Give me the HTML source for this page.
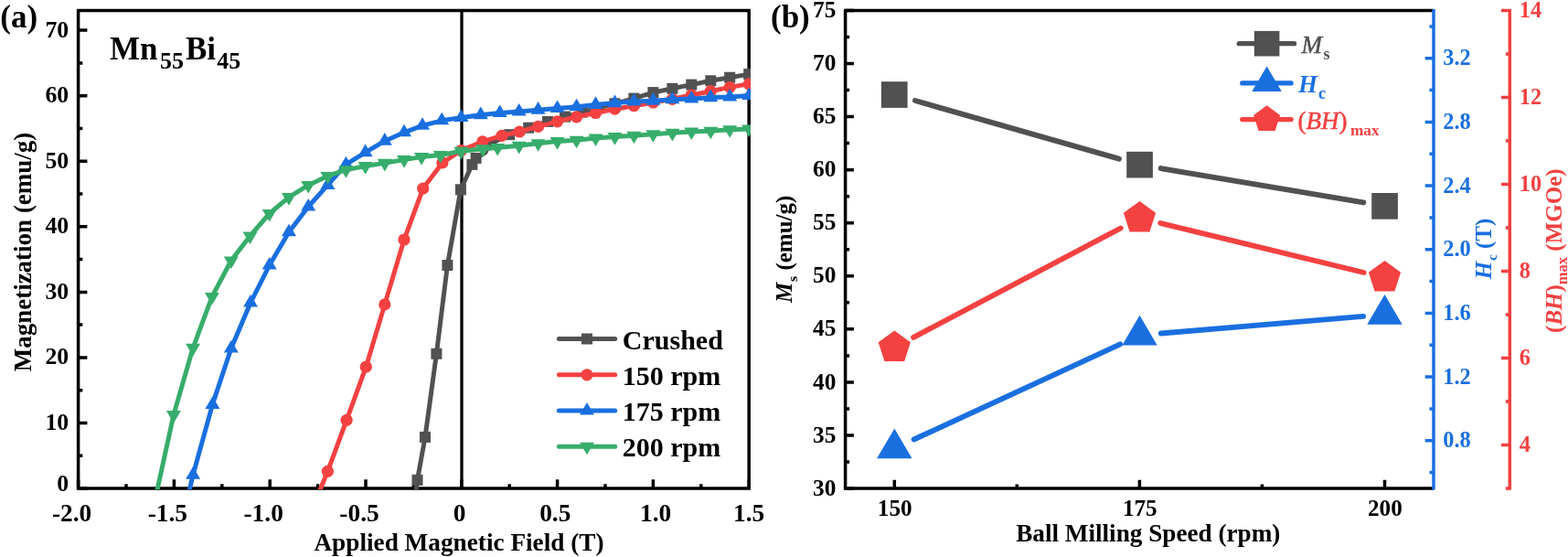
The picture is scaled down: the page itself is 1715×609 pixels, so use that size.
<!DOCTYPE html>
<html lang="en"><head><meta charset="utf-8"><title>Figure</title>
<style>html,body{margin:0;padding:0;background:#fff}svg{display:block}</style></head>
<body>
<svg width="1715" height="609" viewBox="0 0 1715 609" font-family="'Liberation Serif', 'Times New Roman', serif" font-weight="bold">
<rect width="1715" height="609" fill="#fff"/>
<defs><clipPath id="ca"><rect x="84.1" y="11.4" width="736.8" height="523.6"/></clipPath></defs>
<line x1="505" y1="11.4" x2="505" y2="534" stroke="#000" stroke-width="3.3"/>
<path d="M85.6 11.4 H819.2 V534 H85.6 Z" fill="none" stroke="#000" stroke-width="3.5"/>
<path d="M85.6 534 v-9.8 M138 534 v-4.7 M190.4 534 v-9.8 M242.8 534 v-4.7 M295.2 534 v-9.8 M347.6 534 v-4.7 M400 534 v-9.8 M452.4 534 v-4.7 M504.8 534 v-9.8 M557.2 534 v-4.7 M609.6 534 v-9.8 M662 534 v-4.7 M714.4 534 v-9.8 M766.8 534 v-4.7 M819.2 534 v-9.8 M85.6 534 h9.8 M85.6 498.2 h4.7 M85.6 462.4 h9.8 M85.6 426.7 h4.7 M85.6 390.9 h9.8 M85.6 355.1 h4.7 M85.6 319.4 h9.8 M85.6 283.6 h4.7 M85.6 247.8 h9.8 M85.6 212 h4.7 M85.6 176.2 h9.8 M85.6 140.5 h4.7 M85.6 104.7 h9.8 M85.6 68.9 h4.7 M85.6 33.1 h9.8" fill="none" stroke="#000" stroke-width="3.5"/>
<g clip-path="url(#ca)">
<polyline points="455.2,536 456.5,524.8 465,477.9 477.4,386.8 489.4,290 503.9,207.3 516.4,179.9 520.6,172.9 530.8,166.9 535.8,157.6 557.2,147.2 578.2,139.7 599.1,132.9 618,127.6 636.8,122.6 654.7,117.9 672.5,113.3 693.4,107.6 714.4,101.1 735.4,96.8 756.3,92.6 777.3,88.3 798.2,84.7 819.2,81.1" fill="none" stroke="#515151" stroke-width="5.0" stroke-linejoin="round"/><rect x="450.5" y="518.8" width="12" height="12" fill="#515151"/><rect x="459" y="471.9" width="12" height="12" fill="#515151"/><rect x="471.4" y="380.8" width="12" height="12" fill="#515151"/><rect x="483.4" y="284" width="12" height="12" fill="#515151"/><rect x="497.9" y="201.3" width="12" height="12" fill="#515151"/><rect x="510.4" y="173.9" width="12" height="12" fill="#515151"/><rect x="514.6" y="166.9" width="12" height="12" fill="#515151"/><rect x="529.8" y="151.6" width="12" height="12" fill="#515151"/><rect x="551.2" y="141.2" width="12" height="12" fill="#515151"/><rect x="572.2" y="133.7" width="12" height="12" fill="#515151"/><rect x="593.1" y="126.9" width="12" height="12" fill="#515151"/><rect x="612" y="121.6" width="12" height="12" fill="#515151"/><rect x="630.8" y="116.6" width="12" height="12" fill="#515151"/><rect x="648.7" y="111.9" width="12" height="12" fill="#515151"/><rect x="666.5" y="107.3" width="12" height="12" fill="#515151"/><rect x="687.4" y="101.6" width="12" height="12" fill="#515151"/><rect x="708.4" y="95.1" width="12" height="12" fill="#515151"/><rect x="729.4" y="90.8" width="12" height="12" fill="#515151"/><rect x="750.3" y="86.6" width="12" height="12" fill="#515151"/><rect x="771.3" y="82.3" width="12" height="12" fill="#515151"/><rect x="792.2" y="78.7" width="12" height="12" fill="#515151"/><rect x="813.2" y="75.1" width="12" height="12" fill="#515151"/>
<polyline points="349.9,536 358.4,515.3 379.1,459.4 400.3,401.2 420.8,332.9 442,262 462.7,206.1 483.9,177.9 504.4,164.5 527.8,154.8 548.9,148.3 568.2,144 588.6,138.4 609.6,132.8 630.6,127.8 651.5,123.5 672.5,119.2 693.4,115.7 714.4,112 735.4,108.3 756.3,104 777.3,99.7 798.2,95.4 819.2,91.8" fill="none" stroke="#F44141" stroke-width="5.0" stroke-linejoin="round"/><circle cx="358.4" cy="515.3" r="6.6" fill="#F44141"/><circle cx="379.1" cy="459.4" r="6.6" fill="#F44141"/><circle cx="400.3" cy="401.2" r="6.6" fill="#F44141"/><circle cx="420.8" cy="332.9" r="6.6" fill="#F44141"/><circle cx="442" cy="262" r="6.6" fill="#F44141"/><circle cx="462.7" cy="206.1" r="6.6" fill="#F44141"/><circle cx="483.9" cy="177.9" r="6.6" fill="#F44141"/><circle cx="504.4" cy="164.5" r="6.6" fill="#F44141"/><circle cx="527.8" cy="154.8" r="6.6" fill="#F44141"/><circle cx="548.9" cy="148.3" r="6.6" fill="#F44141"/><circle cx="568.2" cy="144" r="6.6" fill="#F44141"/><circle cx="588.6" cy="138.4" r="6.6" fill="#F44141"/><circle cx="609.6" cy="132.8" r="6.6" fill="#F44141"/><circle cx="630.6" cy="127.8" r="6.6" fill="#F44141"/><circle cx="651.5" cy="123.5" r="6.6" fill="#F44141"/><circle cx="672.5" cy="119.2" r="6.6" fill="#F44141"/><circle cx="693.4" cy="115.7" r="6.6" fill="#F44141"/><circle cx="714.4" cy="112" r="6.6" fill="#F44141"/><circle cx="735.4" cy="108.3" r="6.6" fill="#F44141"/><circle cx="756.3" cy="104" r="6.6" fill="#F44141"/><circle cx="777.3" cy="99.7" r="6.6" fill="#F44141"/><circle cx="798.2" cy="95.4" r="6.6" fill="#F44141"/><circle cx="819.2" cy="91.8" r="6.6" fill="#F44141"/>
<polyline points="207.2,536 211.1,519.3 232.4,442.4 252.8,381 274,331.1 294.7,290 316,253.8 337.2,226 358.4,202.4 378.4,179.8 399.6,166.7 420.8,154.2 442,144.8 462,137.3 483.2,131.8 504.4,128.6 525.8,125.7 546.7,123.6 567.7,121.9 588.6,120.2 609.6,118.5 630.6,116.8 651.5,114.4 672.5,112.6 693.4,110.9 714.4,110.2 735.4,108.8 756.3,108.1 777.3,106.6 798.2,105.9 819.2,104.5" fill="none" stroke="#1A6FDF" stroke-width="5.0" stroke-linejoin="round"/><polygon points="211.1,510.2 203.1,523.8 219.1,523.8" fill="#1A6FDF"/><polygon points="232.4,433.3 224.4,446.9 240.4,446.9" fill="#1A6FDF"/><polygon points="252.8,371.9 244.8,385.5 260.8,385.5" fill="#1A6FDF"/><polygon points="274,322 266,335.6 282,335.6" fill="#1A6FDF"/><polygon points="294.7,280.9 286.7,294.5 302.7,294.5" fill="#1A6FDF"/><polygon points="316,244.7 308,258.3 324,258.3" fill="#1A6FDF"/><polygon points="337.2,216.9 329.2,230.5 345.2,230.5" fill="#1A6FDF"/><polygon points="358.4,193.3 350.4,206.9 366.4,206.9" fill="#1A6FDF"/><polygon points="378.4,170.7 370.4,184.3 386.4,184.3" fill="#1A6FDF"/><polygon points="399.6,157.6 391.6,171.2 407.6,171.2" fill="#1A6FDF"/><polygon points="420.8,145.1 412.8,158.7 428.8,158.7" fill="#1A6FDF"/><polygon points="442,135.7 434,149.3 450,149.3" fill="#1A6FDF"/><polygon points="462,128.2 454,141.8 470,141.8" fill="#1A6FDF"/><polygon points="483.2,122.7 475.2,136.3 491.2,136.3" fill="#1A6FDF"/><polygon points="504.4,119.5 496.4,133.1 512.4,133.1" fill="#1A6FDF"/><polygon points="525.8,116.6 517.8,130.2 533.8,130.2" fill="#1A6FDF"/><polygon points="546.7,114.5 538.7,128.1 554.7,128.1" fill="#1A6FDF"/><polygon points="567.7,112.9 559.7,126.5 575.7,126.5" fill="#1A6FDF"/><polygon points="588.6,111.1 580.6,124.7 596.6,124.7" fill="#1A6FDF"/><polygon points="609.6,109.4 601.6,123 617.6,123" fill="#1A6FDF"/><polygon points="630.6,107.7 622.6,121.3 638.6,121.3" fill="#1A6FDF"/><polygon points="651.5,105.3 643.5,118.9 659.5,118.9" fill="#1A6FDF"/><polygon points="672.5,103.6 664.5,117.2 680.5,117.2" fill="#1A6FDF"/><polygon points="693.4,101.9 685.4,115.5 701.4,115.5" fill="#1A6FDF"/><polygon points="714.4,101.1 706.4,114.7 722.4,114.7" fill="#1A6FDF"/><polygon points="735.4,99.7 727.4,113.3 743.4,113.3" fill="#1A6FDF"/><polygon points="756.3,99 748.3,112.6 764.3,112.6" fill="#1A6FDF"/><polygon points="777.3,97.6 769.3,111.2 785.3,111.2" fill="#1A6FDF"/><polygon points="798.2,96.9 790.2,110.5 806.2,110.5" fill="#1A6FDF"/><polygon points="819.2,95.4 811.2,109 827.2,109" fill="#1A6FDF"/>
<polyline points="171.9,536 189.9,453.6 211.1,380.3 231.9,324.4 252.8,285 273.5,258 294.7,233.5 316,215.6 337.2,202.4 358.4,192.4 378.4,185.7 399.6,181.6 420.8,178.3 442,174.6 461,171.6 481.8,169.6 504.4,165.3 528.2,162.8 544.2,161.5 567.7,159.3 588.6,156.8 609.6,154.6 630.6,153.2 651.5,151 672.5,149.6 693.4,148.2 714.4,146.8 735.4,145.3 756.3,143.9 777.3,143.2 798.2,141.8 819.2,141" fill="none" stroke="#37AD6B" stroke-width="5.0" stroke-linejoin="round"/><polygon points="189.9,462.7 181.9,449.1 197.9,449.1" fill="#37AD6B"/><polygon points="211.1,389.4 203.1,375.8 219.1,375.8" fill="#37AD6B"/><polygon points="231.9,333.5 223.9,319.9 239.9,319.9" fill="#37AD6B"/><polygon points="252.8,294.1 244.8,280.5 260.8,280.5" fill="#37AD6B"/><polygon points="273.5,267.1 265.5,253.5 281.5,253.5" fill="#37AD6B"/><polygon points="294.7,242.6 286.7,229 302.7,229" fill="#37AD6B"/><polygon points="316,224.7 308,211.1 324,211.1" fill="#37AD6B"/><polygon points="337.2,211.5 329.2,197.9 345.2,197.9" fill="#37AD6B"/><polygon points="358.4,201.5 350.4,187.9 366.4,187.9" fill="#37AD6B"/><polygon points="378.4,194.8 370.4,181.2 386.4,181.2" fill="#37AD6B"/><polygon points="399.6,190.7 391.6,177.1 407.6,177.1" fill="#37AD6B"/><polygon points="420.8,187.4 412.8,173.8 428.8,173.8" fill="#37AD6B"/><polygon points="442,183.7 434,170.1 450,170.1" fill="#37AD6B"/><polygon points="461,180.7 453,167.1 469,167.1" fill="#37AD6B"/><polygon points="481.8,178.7 473.8,165.1 489.8,165.1" fill="#37AD6B"/><polygon points="504.4,174.4 496.4,160.8 512.4,160.8" fill="#37AD6B"/><polygon points="528.2,171.9 520.2,158.3 536.2,158.3" fill="#37AD6B"/><polygon points="544.2,170.5 536.2,156.9 552.2,156.9" fill="#37AD6B"/><polygon points="567.7,168.4 559.7,154.8 575.7,154.8" fill="#37AD6B"/><polygon points="588.6,165.8 580.6,152.2 596.6,152.2" fill="#37AD6B"/><polygon points="609.6,163.7 601.6,150.1 617.6,150.1" fill="#37AD6B"/><polygon points="630.6,162.3 622.6,148.7 638.6,148.7" fill="#37AD6B"/><polygon points="651.5,160.1 643.5,146.5 659.5,146.5" fill="#37AD6B"/><polygon points="672.5,158.7 664.5,145.1 680.5,145.1" fill="#37AD6B"/><polygon points="693.4,157.3 685.4,143.7 701.4,143.7" fill="#37AD6B"/><polygon points="714.4,155.8 706.4,142.2 722.4,142.2" fill="#37AD6B"/><polygon points="735.4,154.4 727.4,140.8 743.4,140.8" fill="#37AD6B"/><polygon points="756.3,153 748.3,139.4 764.3,139.4" fill="#37AD6B"/><polygon points="777.3,152.3 769.3,138.7 785.3,138.7" fill="#37AD6B"/><polygon points="798.2,150.8 790.2,137.2 806.2,137.2" fill="#37AD6B"/><polygon points="819.2,150.1 811.2,136.5 827.2,136.5" fill="#37AD6B"/>
</g>
<text x="78.6" y="569.8" font-size="27.4" text-anchor="middle">-2.0</text>
<text x="183.4" y="569.8" font-size="27.4" text-anchor="middle">-1.5</text>
<text x="288.2" y="569.8" font-size="27.4" text-anchor="middle">-1.0</text>
<text x="393" y="569.8" font-size="27.4" text-anchor="middle">-0.5</text>
<text x="502.5" y="569.8" font-size="27.4" text-anchor="middle">0</text>
<text x="607.3" y="569.8" font-size="27.4" text-anchor="middle">0.5</text>
<text x="717.1" y="569.8" font-size="27.4" text-anchor="middle">1.0</text>
<text x="819.1" y="569.8" font-size="27.4" text-anchor="middle">1.5</text>
<text x="75.2" y="537" font-size="25.8" text-anchor="end">0</text>
<text x="75.2" y="469.9" font-size="25.8" text-anchor="end">10</text>
<text x="75.2" y="398.4" font-size="25.8" text-anchor="end">20</text>
<text x="75.2" y="326.9" font-size="25.8" text-anchor="end">30</text>
<text x="75.2" y="255.3" font-size="25.8" text-anchor="end">40</text>
<text x="75.2" y="183.8" font-size="25.8" text-anchor="end">50</text>
<text x="75.2" y="112.2" font-size="25.8" text-anchor="end">60</text>
<text x="75.2" y="40.6" font-size="25.8" text-anchor="end">70</text>
<text x="502" y="602.3" font-size="27.25" text-anchor="middle">Applied Magnetic Field (T)</text>
<text transform="translate(34,275.5) rotate(-90)" font-size="27" text-anchor="middle">Magnetization (emu/g)</text>
<text x="0.3" y="29.8" font-size="35">(a)</text>
<text x="120" y="65.2" font-size="35">Mn<tspan font-size="26" dy="9.8" dx="2.5">55</tspan><tspan dy="-9.8" dx="2">Bi</tspan><tspan font-size="26" dy="9.8" dx="1.2">45</tspan></text>
<line x1="611.4" y1="370.5" x2="672.7" y2="370.5" stroke="#515151" stroke-width="5" stroke-linecap="round"/>
<rect x="636" y="364.5" width="12" height="12" fill="#515151"/>
<text x="680.8" y="382.1" font-size="30">Crushed</text>
<line x1="611.4" y1="409.8" x2="672.7" y2="409.8" stroke="#F44141" stroke-width="5" stroke-linecap="round"/>
<circle cx="642" cy="409.8" r="6.6" fill="#F44141"/>
<text x="680.8" y="421" font-size="30">150 rpm</text>
<line x1="611.4" y1="449" x2="672.7" y2="449" stroke="#1A6FDF" stroke-width="5" stroke-linecap="round"/>
<polygon points="642,439.9 634,453.5 650,453.5" fill="#1A6FDF"/>
<text x="680.8" y="459.8" font-size="30">175 rpm</text>
<line x1="611.4" y1="488.2" x2="672.7" y2="488.2" stroke="#37AD6B" stroke-width="5" stroke-linecap="round"/>
<polygon points="642,497.3 634,483.7 650,483.7" fill="#37AD6B"/>
<text x="680.8" y="498.7" font-size="30">200 rpm</text>
<path d="M924.6 11.5 V534 H1568" fill="none" stroke="#000" stroke-width="3.5" />
<path d="M923.1 11.5 H1568" fill="none" stroke="#000" stroke-width="3.5"/>
<path d="M1568 10 V535.5" fill="none" stroke="#1A6FDF" stroke-width="3.5"/>
<path d="M1651.3 10 V535.5" fill="none" stroke="#F44141" stroke-width="3.5"/>
<path d="M924.6 534 h9.3 M924.6 505 h4.5 M924.6 475.9 h9.3 M924.6 446.9 h4.5 M924.6 417.9 h9.3 M924.6 388.9 h4.5 M924.6 359.8 h9.3 M924.6 330.8 h4.5 M924.6 301.8 h9.3 M924.6 272.8 h4.5 M924.6 243.7 h9.3 M924.6 214.7 h4.5 M924.6 185.7 h9.3 M924.6 156.6 h4.5 M924.6 127.6 h9.3 M924.6 98.6 h4.5 M924.6 69.6 h9.3 M924.6 40.5 h4.5 M924.6 11.5 h9.3 M978.3 534 v-9.3 M1112.3 534 v-4.5 M1246.4 534 v-9.3 M1380.4 534 v-4.5 M1514.5 534 v-9.3" fill="none" stroke="#000" stroke-width="3.5"/>
<path d="M1568 516.6 h-4.5 M1568 481.8 h-9.3 M1568 446.9 h-4.5 M1568 412.1 h-9.3 M1568 377.2 h-4.5 M1568 342.4 h-9.3 M1568 307.6 h-4.5 M1568 272.8 h-9.3 M1568 237.9 h-4.5 M1568 203.1 h-9.3 M1568 168.2 h-4.5 M1568 133.4 h-9.3 M1568 98.6 h-4.5 M1568 63.8 h-9.3 M1568 28.9 h-4.5" fill="none" stroke="#1A6FDF" stroke-width="3.5"/>
<path d="M1651.3 534 h-4.5 M1651.3 486.5 h-9.3 M1651.3 439 h-4.5 M1651.3 391.5 h-9.3 M1651.3 344 h-4.5 M1651.3 296.5 h-9.3 M1651.3 249 h-4.5 M1651.3 201.5 h-9.3 M1651.3 154 h-4.5 M1651.3 106.5 h-9.3 M1651.3 59 h-4.5 M1651.3 11.5 h-9.3" fill="none" stroke="#F44141" stroke-width="3.5"/>
<text x="914.5" y="541.6" font-size="25.4" text-anchor="end">30</text>
<text x="914.5" y="483.5" font-size="25.4" text-anchor="end">35</text>
<text x="914.5" y="425.5" font-size="25.4" text-anchor="end">40</text>
<text x="914.5" y="367.4" font-size="25.4" text-anchor="end">45</text>
<text x="914.5" y="309.4" font-size="25.4" text-anchor="end">50</text>
<text x="914.5" y="251.3" font-size="25.4" text-anchor="end">55</text>
<text x="914.5" y="193.3" font-size="25.4" text-anchor="end">60</text>
<text x="914.5" y="135.2" font-size="25.4" text-anchor="end">65</text>
<text x="914.5" y="77.2" font-size="25.4" text-anchor="end">70</text>
<text x="914.5" y="19.1" font-size="25.4" text-anchor="end">75</text>
<text x="978.7" y="563.8" font-size="25.2" text-anchor="middle">150</text>
<text x="1246.8" y="563.8" font-size="25.2" text-anchor="middle">175</text>
<text x="1514.9" y="563.8" font-size="25.2" text-anchor="middle">200</text>
<text x="1578.3" y="489.4" font-size="24.4" fill="#1A6FDF">0.8</text>
<text x="1578.3" y="419.7" font-size="24.4" fill="#1A6FDF">1.2</text>
<text x="1578.3" y="350" font-size="24.4" fill="#1A6FDF">1.6</text>
<text x="1578.3" y="280.4" font-size="24.4" fill="#1A6FDF">2.0</text>
<text x="1578.3" y="210.7" font-size="24.4" fill="#1A6FDF">2.4</text>
<text x="1578.3" y="141" font-size="24.4" fill="#1A6FDF">2.8</text>
<text x="1578.3" y="71.3" font-size="24.4" fill="#1A6FDF">3.2</text>
<text x="1661.8" y="493.8" font-size="24.4" fill="#F44141">4</text>
<text x="1661.8" y="398.8" font-size="24.4" fill="#F44141">6</text>
<text x="1661.8" y="303.8" font-size="24.4" fill="#F44141">8</text>
<text x="1661.8" y="208.8" font-size="24.4" fill="#F44141">10</text>
<text x="1661.8" y="113.8" font-size="24.4" fill="#F44141">12</text>
<text x="1661.8" y="18.8" font-size="24.4" fill="#F44141">14</text>
<text x="1255.8" y="592.1" font-size="27.2" text-anchor="middle">Ball Milling Speed (rpm)</text>
<text x="843" y="30.4" font-size="35">(b)</text>
<text transform="translate(865.9,272.3) rotate(-90)" font-size="25" text-anchor="middle"><tspan font-style="italic">M</tspan><tspan font-size="15.5" dy="6" dx="0.8">s</tspan><tspan dy="-6"> (emu/g)</tspan></text>
<text transform="translate(1631,272) rotate(-90)" font-size="25" text-anchor="middle" fill="#1A6FDF"><tspan font-style="italic">H</tspan><tspan font-size="15.5" dy="6" dx="0.8">c</tspan><tspan dy="-6"> (T)</tspan></text>
<text transform="translate(1708,274.2) rotate(-90)" font-size="25" text-anchor="middle" fill="#F44141">(<tspan font-style="italic">BH</tspan>)<tspan font-size="16.5" dy="6">max</tspan><tspan dy="-6"> (MGOe)</tspan></text>
<line x1="1000.9" y1="110" x2="1223.9" y2="173.7" stroke="#515151" stroke-width="5.9" stroke-linecap="round"/><line x1="1269.7" y1="184.1" x2="1491.3" y2="221.4" stroke="#515151" stroke-width="5.9" stroke-linecap="round"/><rect x="963.9" y="89.2" width="28.7" height="28.7" fill="#515151"/><rect x="1232.2" y="165.8" width="28.7" height="28.7" fill="#515151"/><rect x="1500.2" y="211" width="28.7" height="28.7" fill="#515151"/>
<line x1="999.1" y1="368.9" x2="1225.7" y2="249.5" stroke="#F44141" stroke-width="5.9" stroke-linecap="round"/><line x1="1269.3" y1="244" x2="1491.7" y2="298" stroke="#F44141" stroke-width="5.9" stroke-linecap="round"/><polygon points="978.3,361.4 995.9,374.2 989.2,394.9 967.4,394.9 960.7,374.2" fill="#F44141"/><polygon points="1246.5,220 1264.1,232.8 1257.4,253.5 1235.6,253.5 1228.9,232.8" fill="#F44141"/><polygon points="1514.5,285 1532.1,297.8 1525.4,318.5 1503.6,318.5 1496.9,297.8" fill="#F44141"/>
<line x1="999.6" y1="480.5" x2="1225.2" y2="376.4" stroke="#1A6FDF" stroke-width="5.9" stroke-linecap="round"/><line x1="1269.9" y1="364.5" x2="1491.1" y2="345.9" stroke="#1A6FDF" stroke-width="5.9" stroke-linecap="round"/><polygon points="978.3,468.6 959.1,501.3 997.5,501.3" fill="#1A6FDF"/><polygon points="1246.5,344.7 1227.3,377.4 1265.7,377.4" fill="#1A6FDF"/><polygon points="1514.5,322.1 1495.3,354.8 1533.7,354.8" fill="#1A6FDF"/>
<line x1="1355.2" y1="47.7" x2="1415.6" y2="47.7" stroke="#515151" stroke-width="5.2" stroke-linecap="round"/>
<rect x="1371.8" y="33.9" width="27.6" height="27.6" fill="#515151"/>
<line x1="1358.7" y1="90.9" x2="1412.1" y2="90.9" stroke="#1A6FDF" stroke-width="5.2" stroke-linecap="round"/>
<polygon points="1385.6,72.5 1369.3,100.1 1401.8,100.1" fill="#1A6FDF"/>
<line x1="1358.7" y1="130.6" x2="1412.1" y2="130.6" stroke="#F44141" stroke-width="5.2" stroke-linecap="round"/>
<polygon points="1385.6,115.3 1400.1,125.9 1394.6,142.9 1376.6,142.9 1371.1,125.9" fill="#F44141"/>
<text x="1423.5" y="57.9" font-size="27" fill="#515151"><tspan font-style="italic" font-weight="normal" stroke="#515151" stroke-width="0.5">M</tspan><tspan font-size="18" dy="7" dx="1.5">s</tspan></text>
<text x="1420" y="100.5" font-size="27" fill="#1A6FDF"><tspan font-style="italic">H</tspan><tspan font-size="18" dy="7.5" dx="1">c</tspan></text>
<text x="1419.5" y="141.3" font-size="27" fill="#F44141"><tspan font-weight="normal" stroke="#F44141" stroke-width="0.5">(<tspan font-style="italic">BH</tspan>)</tspan><tspan font-size="17.2" dy="7" dx="3.5">max</tspan></text>
</svg>
</body></html>
